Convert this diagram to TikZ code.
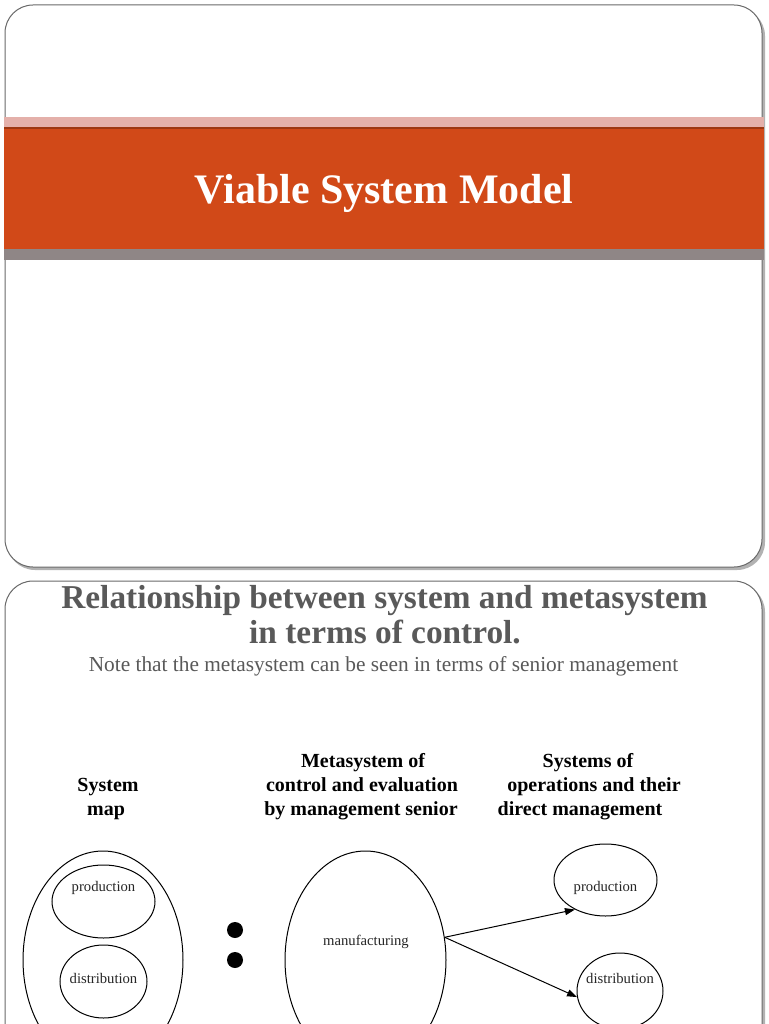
\documentclass[tikz,border=0pt]{standalone}
\usepackage{fontspec}
\setmainfont{Liberation Serif}
\usetikzlibrary{shapes.geometric,arrows.meta}
\newdimen\px \px=0.75pt
\definecolor{orng}{RGB}{209,73,24}
\definecolor{pinkband}{RGB}{228,176,170}
\definecolor{grayband}{RGB}{143,134,134}
\definecolor{titlegray}{RGB}{89,89,89}
\definecolor{framegray}{RGB}{105,105,105}
\tikzset{
  slideframe/.style={draw=framegray, fill=white, line width=0.75pt, rounded corners=21pt},
  slideshadow/.style={fill=black!30, rounded corners=21pt},
  maintitle/.style={anchor=base, text=white, font=\fontsize{31.5pt}{36pt}\selectfont\bfseries},
  subtitle/.style={anchor=base, text=titlegray, font=\fontsize{25pt}{30pt}\selectfont\bfseries},
  notetext/.style={anchor=base, text=titlegray, font=\fontsize{16pt}{19pt}\selectfont},
  heading/.style={anchor=base, text=black, font=\fontsize{15pt}{18pt}\selectfont\bfseries},
  oval/.style={draw, ellipse, line width=0.75pt, inner sep=0pt},
  lbl/.style={anchor=base, text=black!85, font=\fontsize{11pt}{13pt}\selectfont},
  bigdot/.style={circle, fill=black, inner sep=0pt, minimum size=12pt},
  link/.style={line width=0.75pt, -{Triangle[length=7.5pt,width=5.25pt]}}
}
\begin{document}
\begin{tikzpicture}[x=0.75pt, y=-0.75pt]
\useasboundingbox (0,0) rectangle (768,1024);
\fill[white] (0,0) rectangle (768,1024);
\clip (0,0) rectangle (768,1024);

% ---------- slide 1 ----------
\fill[slideshadow] (7,8) rectangle (765,570);
\draw[slideframe] (5,5) rectangle (762,567);
\fill[pinkband] (4,117) rectangle (764,128);
\fill[orng!75!black] (4,127) rectangle (764,129);
\fill[orng] (4,129) rectangle (764,249);
\fill[grayband] (4,249) rectangle (764,260);
\node[maintitle] (title1) at (384,203) {Viable System Model};

% ---------- slide 2 ----------
\fill[slideshadow] (7,584) rectangle (765,1100);
\draw[slideframe] (5,581) rectangle (762,1100);
\node[subtitle] (t2a) at (384.5,608) {Relationship between system and metasystem};
\node[subtitle] (t2b) at (385,643) {in terms of control.};
\node[notetext] (note) at (383.5,671) {Note that the metasystem can be seen in terms of senior management};

% headings
\node[heading] (hsys1) at (108,791) {System};
\node[heading] (hsys2) at (106,815) {map};
\node[heading] (hmeta1) at (363,767) {Metasystem of};
\node[heading] (hmeta2) at (362,791) {control and evaluation};
\node[heading] (hmeta3) at (361,815) {by management senior};
\node[heading] (hops1) at (588,767) {Systems of};
\node[heading] (hops2) at (594,791) {operations and their};
\node[heading] (hops3) at (580,815) {direct management};

% system map
\node[oval, minimum width=120pt, minimum height=163.5pt] (sysmap) at (103,960) {};
\node[oval, minimum width=77.25pt, minimum height=54.75pt] (lprod) at (103.5,901.5) {};
\node[oval, minimum width=65.25pt, minimum height=54.75pt] (ldist) at (103.5,981.5) {};
\node[lbl] (lprodt) at (103.5,891) {production};
\node[lbl] (ldistt) at (103.5,983) {distribution};

% dots
\node[bigdot] (dot1) at (235,930) {};
\node[bigdot] (dot2) at (235,960) {};

% metasystem
\node[oval, minimum width=120.75pt, minimum height=163.5pt] (manu) at (365.5,960) {};
\node[lbl] (manut) at (366,945) {manufacturing};

% operations
\node[oval, minimum width=77.25pt, minimum height=54pt] (rprod) at (605.5,880) {};
\node[oval, minimum width=64.5pt, minimum height=57pt] (rdist) at (620,991) {};
\node[lbl] (rprodt) at (605.5,891) {production};
\node[lbl] (rdistt) at (620,983) {distribution};

\draw[link] (manu.16) -- (rprod.224);
\draw[link] (manu.16) -- (rdist.188);
\end{tikzpicture}
\end{document}
